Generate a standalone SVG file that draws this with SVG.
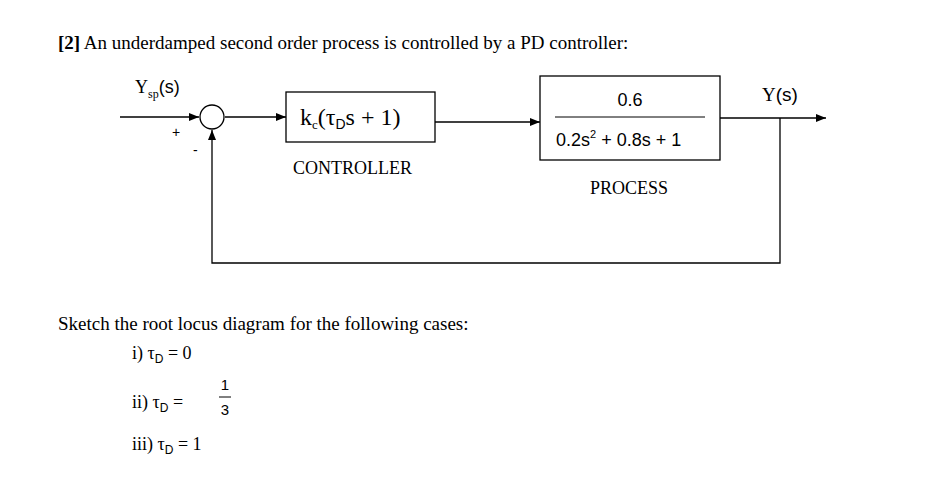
<svg xmlns="http://www.w3.org/2000/svg" width="932" height="501" viewBox="0 0 932 501">
<defs><marker id="a" markerWidth="10" markerHeight="8" refX="10" refY="4" orient="auto" markerUnits="userSpaceOnUse"><path d="M0,0 L10,4 L0,8 Z" fill="#000"/></marker></defs>
<style>text{font-family:"Liberation Serif",serif;fill:#000}.l{stroke:#000;stroke-width:1.3;fill:none}.s{font-family:"Liberation Sans",sans-serif}</style>
<rect width="932" height="501" fill="#fff"/>
<text x="58" y="49" font-size="19"><tspan font-weight="bold">[2]</tspan> An underdamped second order process is controlled by a PD controller:</text>
<g id="connectors" class="l">
<line x1="120" y1="117" x2="199" y2="117" marker-end="url(#a)"/>
<line x1="225" y1="117" x2="286" y2="117" marker-end="url(#a)"/>
<line x1="435" y1="122" x2="540" y2="122" marker-end="url(#a)"/>
<line x1="720" y1="118" x2="826" y2="118" marker-end="url(#a)"/>
<polyline points="780,118 780,263 212,263 212,130" marker-end="url(#a)"/>
</g>
<g id="sum"><circle cx="212" cy="117" r="12" class="l"/>
<text x="135" y="93" font-size="18">Y<tspan font-size="12" dy="5">sp</tspan><tspan dy="-5" class="s" font-size="18">(s)</tspan></text>
<text x="172" y="137" font-size="14" class="s">+</text><text x="193" y="155" font-size="14" class="s">-</text></g>
<g id="controller"><rect x="286" y="92" width="149" height="50" class="l"/>
<text x="300" y="125" font-size="24">k<tspan font-size="13" dy="4">c</tspan><tspan dy="-4">(τ</tspan><tspan font-size="14" dy="4" class="s">D</tspan><tspan dy="-4">s + 1)</tspan></text>
<text x="293" y="174" font-size="18">CONTROLLER</text></g>
<g id="process"><rect x="540" y="76" width="180" height="84" class="l"/>
<text x="630" y="106" font-size="18" text-anchor="middle" class="s">0.6</text>
<line x1="555" y1="117" x2="705" y2="117" stroke="#000" stroke-width="1"/>
<text x="556" y="146" font-size="18" class="s">0.2s<tspan font-size="11" dy="-8">2</tspan><tspan dy="8"> + 0.8s + 1</tspan></text>
<text x="590" y="194" font-size="18">PROCESS</text></g>
<text x="762" y="101" font-size="19">Y<tspan class="s">(s)</tspan></text>
<text x="58" y="330" font-size="19">Sketch the root locus diagram for the following cases:</text>
<text x="132" y="359" font-size="18">i)   τ<tspan font-size="12" dy="4" class="s">D</tspan><tspan dy="-4"> = 0</tspan></text>
<text x="132" y="408" font-size="18">ii)  τ<tspan font-size="12" dy="4" class="s">D</tspan><tspan dy="-4"> =</tspan></text>
<text x="225" y="390" font-size="15" class="s" text-anchor="middle">1</text>
<line x1="219" y1="397" x2="231" y2="397" stroke="#000"/>
<text x="225" y="415" font-size="15" class="s" text-anchor="middle">3</text>
<text x="132" y="450" font-size="18">iii) τ<tspan font-size="12" dy="4" class="s">D</tspan><tspan dy="-4"> = 1</tspan></text>
</svg>
